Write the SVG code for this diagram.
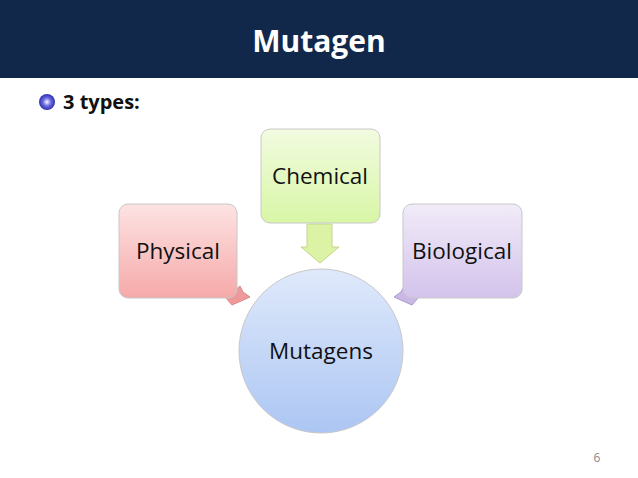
<svg xmlns="http://www.w3.org/2000/svg" width="638" height="478" viewBox="0 0 638 478">
<defs>
<linearGradient id="gr" x1="0" y1="0" x2="0" y2="1"><stop offset="0" stop-color="#fde3e3"/><stop offset="1" stop-color="#f6a9a9"/></linearGradient>
<linearGradient id="gg" x1="0" y1="0" x2="0" y2="1"><stop offset="0" stop-color="#f2fbe0"/><stop offset="1" stop-color="#d8f6a6"/></linearGradient>
<linearGradient id="gp" x1="0" y1="0" x2="0" y2="1"><stop offset="0" stop-color="#f1ebf8"/><stop offset="1" stop-color="#d3c3ec"/></linearGradient>
<linearGradient id="gb" x1="0" y1="0" x2="0" y2="1"><stop offset="0" stop-color="#dfe9fb"/><stop offset="1" stop-color="#acc6f3"/></linearGradient>
<radialGradient id="sp"><stop offset="0" stop-color="#fff"/><stop offset="0.5" stop-color="#6a6ae0"/><stop offset="1" stop-color="#3030b0"/></radialGradient>
<style>
.t{font-family:"Open Sans",sans-serif;font-size:22.5px;fill:#111;text-anchor:middle}
.box{stroke:#c8c8c8;stroke-width:1}
</style>
</defs>
<rect width="638" height="478" fill="#fff"/>
<rect width="638" height="78" fill="#12284b"/>
<text x="319" y="52" font-family="'Open Sans',sans-serif" font-weight="bold" font-size="30" fill="#fff" text-anchor="middle">Mutagen</text>
<circle cx="47" cy="102" r="8" fill="url(#sp)"/>
<text x="63" y="109" font-family="'Open Sans',sans-serif" font-weight="bold" font-size="20" fill="#111">3 types:</text>
<g id="connectors">
<path d="M307,224 H332 V247 H339 L320,263 L301,247 H307 Z" fill="#dcf3a6" stroke="#bfd88a"/>
<path d="M226,298 L240,286 L243,292 L250,297 L232,305 Z" fill="#ee9a9a" stroke="#d88"/>
<path d="M418,298 L404,286 L401,292 L394,297 L412,305 Z" fill="#c9b8e6" stroke="#aa9bcc"/>
</g>
<g id="physical"><rect class="box" x="119" y="204" width="118" height="94" rx="9" fill="url(#gr)"/><text class="t" x="178" y="259">Physical</text></g>
<g id="chemical"><rect class="box" x="261" y="129" width="119" height="94" rx="9" fill="url(#gg)"/><text class="t" x="320" y="184">Chemical</text></g>
<g id="biological"><rect class="box" x="403" y="204" width="119" height="94" rx="9" fill="url(#gp)"/><text class="t" x="462" y="259">Biological</text></g>
<g id="mutagens"><circle class="box" cx="321" cy="351" r="82" fill="url(#gb)"/><text class="t" x="321" y="359">Mutagens</text></g>
<text x="597" y="462" font-family="'Open Sans',sans-serif" font-size="12" fill="#888" text-anchor="middle">6</text>
</svg>
